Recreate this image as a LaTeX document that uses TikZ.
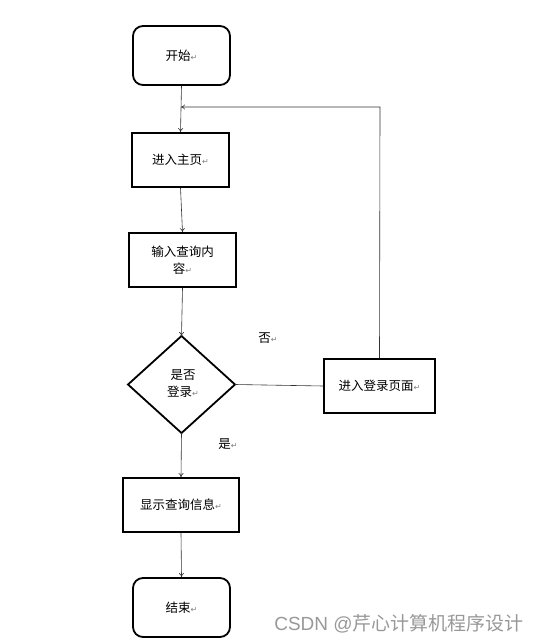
\documentclass[tikz,border=0pt]{standalone}
\usepackage{fontspec}
\setmainfont{Noto Sans CJK SC}
\newfontfamily\symfont{DejaVu Sans}
\newfontfamily\wmfont{Liberation Sans}
\usetikzlibrary{shapes.geometric,arrows.meta}
\newcommand{\parmark}{{\color{gray}\symfont\fontsize{8}{8}\selectfont ↵}}
\tikzset{
  x=1pt,y=-1pt,
  every node/.style={font=\fontsize{12.5}{17}\selectfont},
  proc/.style={draw=black,line width=1.8pt,minimum width=#1,minimum height=54pt,inner sep=0pt,align=center},
  term/.style={draw=black,line width=1.8pt,rounded corners=10pt,minimum width=97pt,minimum height=59pt,inner sep=0pt},
  conn/.style={line width=0.6pt,draw=black!80},
  arr/.style={conn,-{To[length=4pt,width=5pt]}},
  lbl/.style={inner sep=0pt}
}
\begin{document}
\begin{tikzpicture}
\useasboundingbox (0,0) rectangle (540,644);
\fill[white] (0,0) rectangle (540,644);
\node[term] (start) at (181.5,55.5) {开始\parmark};
\node[proc=97pt] (home) at (180.5,160) {进入主页\parmark};
\node[proc=107pt] (input) at (182.5,260) {输入查询内\\容\parmark};
\coordinate (dl) at (128,384.5);
\coordinate (dr) at (235,384.5);
\coordinate (dt) at (181.5,336);
\coordinate (db) at (181.5,433);
\draw[line width=1.8pt,line join=miter] (dl) -- (dt) -- (dr) -- (db) -- cycle;
\node[lbl,align=center] (logtxt) at (183,384) {是否\\登录\parmark};
\node[proc=111pt] (loginpage) at (379.5,386) {进入登录页面\parmark};
\node[proc=116pt] (show) at (181,505) {显示查询信息\parmark};
\node[term] (end) at (181.5,607.5) {结束\parmark};
\coordinate (merge) at (181,107);
\coordinate (corner) at (380,107);
\draw[arr] (start.south) -- (home.north);
\draw[arr] (loginpage.north) -- (corner) -- (merge);
\draw[arr] (home.south) -- (input.north);
\draw[arr] (input.south) -- (dt);
\draw[conn] (dr) -- (loginpage.west);
\draw[arr] (db) -- (show.north);
\draw[arr] (show.south) -- (end.north);
\node[lbl] (no) at (268,338) {否\parmark};
\node[lbl] (yes) at (228,444) {是\parmark};
\node[lbl,text=black!40,font=\fontsize{19}{21}\selectfont] (wm) at (399,624) {{\wmfont CSDN @}芹心计算机程序设计};
\end{tikzpicture}
\end{document}
